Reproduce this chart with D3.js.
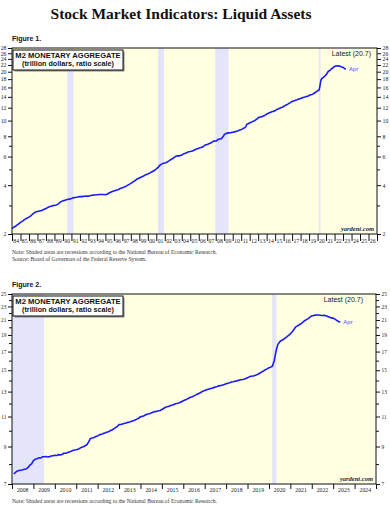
<!DOCTYPE html>
<html><head><meta charset="utf-8">
<script src="https://cdn.jsdelivr.net/npm/d3@7"></script>
<style>
body{margin:0;background:#fff;}
svg{display:block;}
</style></head>
<body>
<svg id="c" width="390" height="505"></svg>
<script>
// M2, trillion dollars, quarterly 1984Q1 - 2007Q4
const m2Quarterly = [
 2.16,2.21,2.25,2.30, 2.36,2.40,2.46,2.50, 2.54,2.60,2.67,2.73, 2.75,2.77,2.79,2.83,
 2.87,2.92,2.95,2.99, 3.00,3.02,3.08,3.16, 3.20,3.23,3.26,3.28, 3.31,3.35,3.36,3.38,
 3.40,3.40,3.42,3.43, 3.42,3.45,3.47,3.48, 3.49,3.50,3.50,3.50, 3.49,3.53,3.59,3.64,
 3.68,3.72,3.75,3.81, 3.85,3.90,3.96,4.03, 4.10,4.19,4.26,4.37, 4.43,4.49,4.55,4.64,
 4.69,4.76,4.84,4.92, 5.04,5.17,5.35,5.43, 5.48,5.54,5.65,5.77, 5.86,6.00,6.07,6.06,
 6.13,6.25,6.31,6.41, 6.45,6.50,6.59,6.68, 6.76,6.82,6.89,7.07, 7.13,7.22,7.31,7.47
];
// M2, trillion dollars, monthly Jan 2008 - Apr 2023
const m2Monthly = [
 7.49,7.57,7.64,7.66,7.68,7.70,7.73,7.74,7.82,7.94,8.01,8.19,
 8.26,8.29,8.34,8.33,8.40,8.40,8.42,8.39,8.41,8.44,8.46,8.48,
 8.47,8.52,8.51,8.53,8.60,8.61,8.63,8.67,8.71,8.76,8.79,8.81,
 8.84,8.89,8.95,8.99,9.04,9.12,9.28,9.50,9.53,9.56,9.62,9.66,
 9.73,9.76,9.81,9.85,9.90,9.94,10.00,10.05,10.13,10.21,10.29,10.42,
 10.43,10.47,10.51,10.53,10.58,10.60,10.65,10.70,10.75,10.81,10.87,10.99,
 11.01,11.06,11.13,11.19,11.21,11.26,11.32,11.37,11.38,11.43,11.46,11.53,
 11.61,11.71,11.74,11.78,11.84,11.88,11.95,12.00,12.03,12.08,12.15,12.22,
 12.29,12.36,12.44,12.51,12.56,12.63,12.72,12.79,12.86,12.94,13.04,13.09,
 13.16,13.21,13.26,13.30,13.35,13.40,13.45,13.51,13.55,13.58,13.64,13.70,
 13.75,13.79,13.86,13.88,13.93,13.97,14.02,14.07,14.09,14.12,14.19,14.27,
 14.35,14.41,14.43,14.47,14.54,14.63,14.73,14.84,14.93,15.05,15.14,15.25,
 15.31,15.43,16.02,17.07,17.84,18.13,18.32,18.42,18.61,18.77,18.95,19.13,
 19.41,19.72,20.05,20.20,20.34,20.48,20.70,20.90,21.05,21.20,21.41,21.58,
 21.64,21.70,21.72,21.72,21.67,21.64,21.66,21.61,21.50,21.40,21.30,21.27,
 21.12,20.95,20.79,20.70
];
const recessions1 = [[1990.5,1991.25],[2001.2,2001.9],[2007.95,2009.5],[2020.15,2020.35]];
const recessions2 = [[2008.0,2009.5],[2020.15,2020.35]];
const fig1YearLabels = ["84","85","86","87","88","89","90","91","92","93","94","95","96","97","98","99","00","01","02","03","04","05","06","07","08","09","10","11","12","13","14","15","16","17","18","19","20","21","22","23","24","25","26"];
const fig1YTicks = [2,4,6,8,10,12,14,16,18,20,22,24,26,28];
const fig1YMinor = [3,5,7];
const fig2YearLabels = ["2008","2009","2010","2011","2012","2013","2014","2015","2016","2017","2018","2019","2020","2021","2022","2023","2024"];
const fig2YTicks = [7,9,11,13,15,17,19,21,23,25];
const fig2YMinor = [8,10,12,14,16,18,20,22,24];
const latestLabel = "Latest (20.7)";
const lastMonth = "Apr";

const svg = d3.select("#c");
const serif = "'Liberation Serif','Times New Roman',serif";
const sans = "'Liberation Sans',Arial,sans-serif";

svg.append("text").attr("x",181).attr("y",19).attr("text-anchor","middle")
  .attr("font-family",serif).attr("font-weight","bold").attr("font-size",15.5)
  .attr("fill","#111").text("Stock Market Indicators: Liquid Assets");

const seriesAll = m2Quarterly.map((v,i)=>({t:1984+i/4,v}))
  .concat(m2Monthly.map((v,i)=>({t:2008+(i+1)/12,v})));
const seriesRecent = m2Monthly.map((v,i)=>({t:2008+(i+1)/12,v}));

function panel(o){
  const g = svg.append("g");
  const x = d3.scaleLinear().domain(o.xDomain).range([o.left,o.right]);
  const y = d3.scaleLog().domain(o.yDomain).range([o.bottom,o.top]);
  g.append("text").attr("x",o.left).attr("y",o.top-7).attr("font-family",sans)
    .attr("font-weight","bold").attr("font-size",7).attr("fill","#111").text(o.fig);
  g.append("rect").attr("x",o.left).attr("y",o.top).attr("width",o.right-o.left)
    .attr("height",o.bottom-o.top).attr("fill","#ffffe2");
  g.selectAll(".rec").data(o.rec).join("rect")
    .attr("x",d=>x(d[0])).attr("width",d=>x(d[1])-x(d[0]))
    .attr("y",o.top).attr("height",o.bottom-o.top).attr("fill","#e4e4fa");
  const line = d3.line().x(d=>x(d.t)).y(d=>y(d.v));
  g.append("path").datum(o.data).attr("d",line).attr("fill","none")
    .attr("stroke","#1a1aff").attr("stroke-width",1.6).attr("stroke-linejoin","round");
  g.append("rect").attr("x",o.left).attr("y",o.top).attr("width",o.right-o.left)
    .attr("height",o.bottom-o.top).attr("fill","none").attr("stroke","#111").attr("stroke-width",1);
  // y axes
  const fmt = d3.format("d");
  [["L",d3.axisLeft,o.left],["R",d3.axisRight,o.right]].forEach(([k,ax,px])=>{
    const a = g.append("g").attr("transform",`translate(${px},0)`)
      .call(ax(y).tickValues(o.yTicks).tickFormat(fmt).tickSize(4).tickPadding(1.5));
    const m = g.append("g").attr("transform",`translate(${px},0)`)
      .call(ax(y).tickValues(o.yMinor).tickFormat("").tickSize(3));
    [a,m].forEach(s=>{s.select(".domain").remove();
      s.selectAll("line").attr("stroke","#111");
      s.selectAll("text").attr("font-family",serif).attr("font-size",o.yFont).attr("fill","#222");});
  });
  // x axis ticks at year boundaries
  const xa = g.append("g").attr("transform",`translate(0,${o.bottom})`)
    .call(d3.axisBottom(x).tickValues(d3.range(o.xDomain[0],o.xDomain[1]+1)).tickFormat("").tickSize(o.xTick));
  xa.select(".domain").remove(); xa.selectAll("line").attr("stroke","#111").attr("stroke-width",1);
  g.selectAll(".xl").data(o.xLabels).join("text")
    .attr("x",(d,i)=>x(o.xDomain[0]+i+0.5)).attr("y",o.bottom+o.xLabY).attr("text-anchor","middle")
    .attr("font-family",serif).attr("font-size",o.xFont).attr("fill","#222").text(d=>d);
  // legend box
  g.append("rect").attr("x",o.left+2.5).attr("y",o.top+3.5).attr("width",110).attr("height",20).attr("fill","#888");
  g.append("rect").attr("x",o.left+1).attr("y",o.top+2).attr("width",110).attr("height",20)
    .attr("fill","#fff").attr("stroke","#111").attr("stroke-width",1);
  g.append("text").attr("x",o.left+56).attr("y",o.top+10).attr("text-anchor","middle")
    .attr("font-family",sans).attr("font-weight","bold").attr("font-size",7.6).attr("fill","#111").text("M2 MONETARY AGGREGATE");
  g.append("text").attr("x",o.left+56).attr("y",o.top+18).attr("text-anchor","middle")
    .attr("font-family",sans).attr("font-weight","bold").attr("font-size",7.2).attr("fill","#111").text("(trillion dollars, ratio scale)");
  // latest
  const last = o.data[o.data.length-1];
  g.append("text").attr("x",o.latestX).attr("y",o.top+8).attr("text-anchor","end")
    .attr("font-family",sans).attr("font-size",7).attr("fill","#222").text(latestLabel);
  g.append("text").attr("x",x(last.t)+3).attr("y",y(last.v)+2).attr("font-family",sans)
    .attr("font-size",6).attr("fill","#5050f0").text(lastMonth);
  g.append("text").attr("x",o.right-3).attr("y",o.bottom-3).attr("text-anchor","end")
    .attr("font-family",serif).attr("font-weight","bold").attr("font-style","italic")
    .attr("font-size",6.5).attr("fill","#222244").text("yardeni.com");
  // notes
  o.notes.forEach((n,i)=>g.append("text").attr("x",o.left).attr("y",o.noteY+i*7)
    .attr("font-family",serif).attr("font-size",5.6).attr("fill","#333").text(n));
}

panel({fig:"Figure 1.",left:12,right:377,top:48,bottom:234,xDomain:[1984,2027],yDomain:[2,28],
  data:seriesAll,rec:recessions1,yTicks:fig1YTicks,yMinor:fig1YMinor,yFont:5.8,
  xLabels:fig1YearLabels,xFont:5.8,xTick:7,xLabY:8.5,latestX:371,
  notes:["Note: Shaded areas are recessions according to the National Bureau of Economic Research.",
         "Source: Board of Governors of the Federal Reserve System."],noteY:254});
panel({fig:"Figure 2.",left:12,right:376,top:294,bottom:484,xDomain:[2008,2025],yDomain:[7,25],
  data:seriesRecent,rec:recessions2,yTicks:fig2YTicks,yMinor:fig2YMinor,yFont:5.4,
  xLabels:fig2YearLabels,xFont:5.8,xTick:5,xLabY:8,latestX:363,
  notes:["Note: Shaded areas are recessions according to the National Bureau of Economic Research."],noteY:503});
</script>
</body></html>
